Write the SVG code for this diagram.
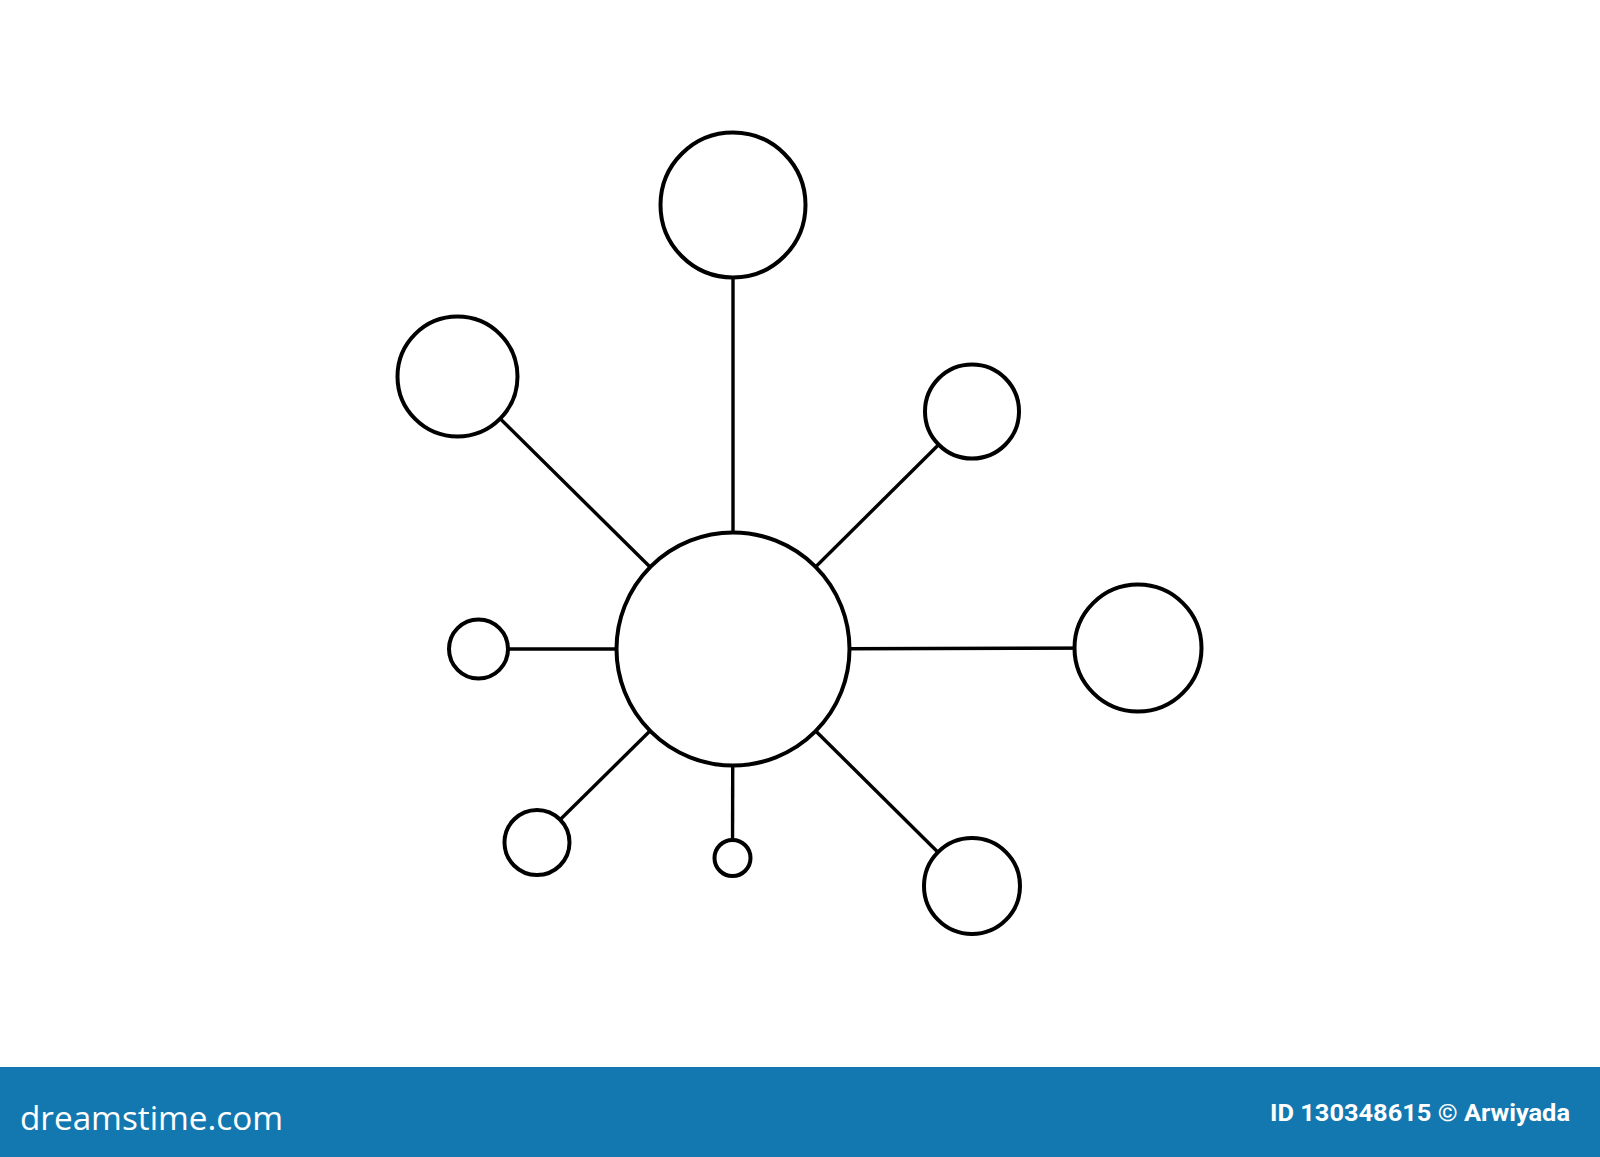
<svg xmlns="http://www.w3.org/2000/svg" width="1600" height="1157" viewBox="0 0 1600 1157">
<style>
.node{fill:#fff;stroke:#000;stroke-width:4}
.edge{stroke:#000;stroke-width:3.4;fill:none}
.brand{fill:#fff;font-family:"Open Sans","Noto Sans",sans-serif;font-size:32px}
.credit{fill:#fff;font-family:Roboto,"Liberation Sans",sans-serif;font-size:24px;font-weight:bold}
</style>
<rect width="1600" height="1157" fill="#fff"/>
<g id="connectors">
<line class="edge" x1="733" y1="649" x2="733" y2="205"/>
<line class="edge" x1="733" y1="649" x2="457.5" y2="376.5"/>
<line class="edge" x1="733" y1="649" x2="972" y2="411.5"/>
<line class="edge" x1="733" y1="649" x2="478.5" y2="649"/>
<line class="edge" x1="733" y1="649" x2="1138" y2="648"/>
<line class="edge" x1="733" y1="649" x2="537" y2="842.5"/>
<line class="edge" x1="733" y1="649" x2="732.5" y2="858"/>
<line class="edge" x1="733" y1="649" x2="972" y2="886"/>
</g>
<g id="hub"><circle class="node" cx="733" cy="649" r="116.5"/></g>
<g id="top"><circle class="node" cx="733" cy="205" r="72.5"/></g>
<g id="upper-left"><circle class="node" cx="457.5" cy="376.5" r="60"/></g>
<g id="upper-right"><circle class="node" cx="972" cy="411.5" r="47"/></g>
<g id="left"><circle class="node" cx="478.5" cy="649" r="29.5"/></g>
<g id="right"><circle class="node" cx="1138" cy="648" r="63.5"/></g>
<g id="lower-left"><circle class="node" cx="537" cy="842.5" r="32.5"/></g>
<g id="bottom"><circle class="node" cx="732.5" cy="858" r="18"/></g>
<g id="lower-right"><circle class="node" cx="972" cy="886" r="48"/></g>
<g id="footer">
<rect x="0" y="1067" width="1600" height="90" fill="#1478b0"/>
<text class="brand" x="20" y="1130" textLength="263" lengthAdjust="spacingAndGlyphs">dreamstime.com</text>
<text class="credit" x="1270" y="1121" textLength="300" lengthAdjust="spacingAndGlyphs">ID 130348615 © Arwiyada</text>
</g>
</svg>
